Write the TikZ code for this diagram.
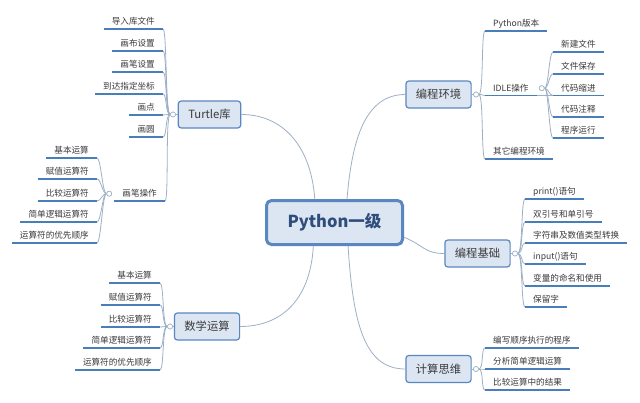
\documentclass[tikz,border=0pt]{standalone}
\usepackage{fontspec}
\setmainfont{Noto Sans CJK SC}
\definecolor{nodefill}{HTML}{DCE6F2}
\definecolor{nodeline}{HTML}{5B87C0}
\definecolor{uline}{HTML}{4A7EBB}
\definecolor{conn}{HTML}{9DB0C6}
\definecolor{txt}{HTML}{3A3A3A}
\definecolor{ctxt}{HTML}{2E4D7B}
\tikzset{
  topic/.style={draw=nodeline, fill=nodefill, line width=1.2pt, rounded corners=3pt,
    minimum height=27pt, inner xsep=10pt, font=\fontsize{11.3}{13}\selectfont, text=txt},
  centre/.style={draw=nodeline, fill=nodefill, line width=3pt, rounded corners=5pt,
    minimum width=136pt, minimum height=44pt, font=\fontsize{16.5}{19}\selectfont\bfseries, text=ctxt},
  item/.style={inner xsep=8pt, inner ysep=3pt, text depth=1pt,
    font=\fontsize{8.6}{10}\selectfont, text=txt},
  ul/.style={draw=uline, line width=1.6pt},
  cn/.style={draw=conn, line width=0.8pt},
  knob/.style={circle, draw=conn, fill=white, inner sep=0pt, minimum size=5pt, line width=0.6pt}
}
\begin{document}
\begin{tikzpicture}[x=1pt,y=-1pt]
\useasboundingbox (0,0) rectangle (640,402);
\fill[white] (0,0) rectangle (640,402);

% main topics
\node[centre] (c) at (334.5,222.5) {Python一级};
\node[topic] (tu) at (209.5,114.5) {Turtle库};
\node[topic] (sx) at (207,326.5) {数学运算};
\node[topic] (hj) at (438.5,94.5) {编程环境};
\node[topic] (jc) at (477.5,253.5) {编程基础};
\node[topic] (sw) at (438.5,369) {计算思维};

% main connectors
\draw[cn] (c.130) .. controls +(-4,-55) and +(40,0) .. (tu.east);
\draw[cn] (c.62) .. controls +(5,-60) and +(-40,0) .. (hj.west);
\draw[cn] (c.-12) .. controls +(20,8) and +(-20,0) .. (jc.west);
\draw[cn] (c.-132) .. controls +(-3,55) and +(40,0) .. (sx.east);
\draw[cn] (c.-60) .. controls +(5,80) and +(-40,0) .. (sw.west);

% ---------- Turtle库 ----------
\node[item, anchor=south east] (t1) at (163,29) {导入库文件};
\node[item, anchor=south east] (t2) at (163,51) {画布设置};
\node[item, anchor=south east] (t3) at (163,72) {画笔设置};
\node[item, anchor=south east] (t4) at (163,94) {到达指定坐标};
\node[item, anchor=south east] (t5) at (163,115) {画点};
\node[item, anchor=south east] (t6) at (163,137) {画圆};
\node[item, anchor=south east] (t7) at (165,201) {画笔操作};
\node[knob] (kt) at (173,114.5) {};
\draw[cn] (kt) -- (tu.west);
\foreach \n in {t1,t2,t3,t4,t5,t6,t7}{
  \draw[cn] (kt.west) .. controls +(-5,0) and +(4,0) .. (\n.south east);
  \draw[ul] (\n.south west) -- (\n.south east);
}
% 画笔操作 children
\node[item, anchor=south east] (p1) at (97,158) {基本运算};
\node[item, anchor=south east] (p2) at (97,179) {赋值运算符};
\node[item, anchor=south east] (p3) at (97,201) {比较运算符};
\node[item, anchor=south east] (p4) at (97,222) {简单逻辑运算符};
\node[item, anchor=south east] (p5) at (97,243) {运算符的优先顺序};
\node[knob] (kp) at ([xshift=-5pt]t7.west) {};
\foreach \n in {p1,p2,p3,p4,p5}{
  \draw[cn] (kp.west) .. controls +(-4,0) and +(4,0) .. (\n.south east);
  \draw[ul] (\n.south west) -- (\n.south east);
}
\node[knob] at (kp) {};

% ---------- 数学运算 ----------
\node[item, anchor=south east] (m1) at (160,283) {基本运算};
\node[item, anchor=south east] (m2) at (160,305) {赋值运算符};
\node[item, anchor=south east] (m3) at (160,327) {比较运算符};
\node[item, anchor=south east] (m4) at (160,348) {简单逻辑运算符};
\node[item, anchor=south east] (m5) at (160,370) {运算符的优先顺序};
\node[knob] (km) at (170,326.5) {};
\draw[cn] (km) -- (sx.west);
\foreach \n in {m1,m2,m3,m4,m5}{
  \draw[cn] (km.west) .. controls +(-5,0) and +(4,0) .. (\n.south east);
  \draw[ul] (\n.south west) -- (\n.south east);
}
\node[knob] at (km) {};

% ---------- 编程环境 ----------
\node[item, anchor=south west] (h1) at (485,31) {Python版本};
\node[item, anchor=south west] (h2) at (485,95.5) {IDLE操作};
\node[item, anchor=south west] (h3) at (485,159) {其它编程环境};
\node[knob] (kh) at (476,94.5) {};
\draw[cn] (hj.east) -- (kh);
\foreach \n in {h1,h2,h3}{
  \draw[cn] (kh.east) .. controls +(5,0) and +(-4,0) .. (\n.south west);
  \draw[ul] (\n.south west) -- (\n.south east);
}
\node[knob] at (kh) {};
\node[item, anchor=south west] (i1) at (553,52) {新建文件};
\node[item, anchor=south west] (i2) at (553,74) {文件保存};
\node[item, anchor=south west] (i3) at (553,95.5) {代码缩进};
\node[item, anchor=south west] (i4) at (553,117) {代码注释};
\node[item, anchor=south west] (i5) at (553,138) {程序运行};
\node[knob] (ki) at ([xshift=5pt]h2.east) {};
\draw[cn] (h2.south east) -- (i3.south west);
\foreach \n in {i1,i2,i3,i4,i5}{
  \draw[cn] (ki.east) .. controls +(4,0) and +(-4,0) .. (\n.south west);
  \draw[ul] (\n.south west) -- (\n.south east);
}
\node[knob] at (ki) {};

% ---------- 编程基础 ----------
\node[item, anchor=south west] (b1) at (525,199) {print()语句};
\node[item, anchor=south west] (b2) at (525,222) {双引号和单引号};
\node[item, anchor=south west] (b3) at (525,243) {字符串及数值类型转换};
\node[item, anchor=south west] (b4) at (525,264) {input()语句};
\node[item, anchor=south west] (b5) at (525,286) {变量的命名和使用};
\node[item, anchor=south west] (b6) at (525,307) {保留字};
\node[knob] (kb) at (515,253.5) {};
\draw[cn] (jc.east) -- (kb);
\foreach \n in {b1,b2,b3,b4,b5,b6}{
  \draw[cn] (kb.east) .. controls +(5,0) and +(-4,0) .. (\n.south west);
  \draw[ul] (\n.south west) -- (\n.south east);
}
\node[knob] at (kb) {};

% ---------- 计算思维 ----------
\node[item, anchor=south west] (s1) at (485,348) {编写顺序执行的程序};
\node[item, anchor=south west] (s2) at (485,369) {分析简单逻辑运算};
\node[item, anchor=south west] (s3) at (485,390) {比较运算中的结果};
\node[knob] (ks) at (476,369) {};
\draw[cn] (sw.east) -- (ks);
\foreach \n in {s1,s2,s3}{
  \draw[cn] (ks.east) .. controls +(5,0) and +(-4,0) .. (\n.south west);
  \draw[ul] (\n.south west) -- (\n.south east);
}
\node[knob] at (ks) {};
\node[knob] at (kt) {};
\end{tikzpicture}
\end{document}
